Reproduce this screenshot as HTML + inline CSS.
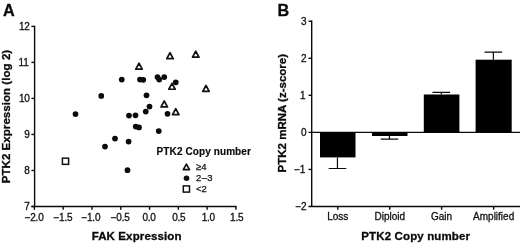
<!DOCTYPE html>
<html><head><meta charset="utf-8"><title>Figure</title>
<style>
html,body{margin:0;padding:0;background:#fff;}
body{width:520px;height:245px;overflow:hidden;}
svg{display:block;font-family:"Liberation Sans",Arial,Helvetica,sans-serif;}
.t{font-size:10px;fill:#111;letter-spacing:-0.25px;stroke:#111;stroke-width:.3px;}
.tb{font-size:10px;fill:#111;stroke:#111;stroke-width:.3px;}
.b{font-weight:bold;fill:#0a0a0a;stroke:#0a0a0a;stroke-width:.3px;}
.l{font-size:9.5px;fill:#111;stroke:#111;stroke-width:.25px;}
</style></head><body>
<svg width="520" height="245" viewBox="0 0 520 245">
<rect width="520" height="245" fill="#fff"/>

<text x="2.9" y="16.0" class="b" font-size="16.2">A</text>
<g stroke="#0a0a0a" stroke-width="1.4" fill="none">
<path d="M34.6 25.799999999999997V207.1"/>
<path d="M31.400000000000002 206.5H236.5"/>
<path d="M31.400000000000002 26.40H34.6"/>
<path d="M31.400000000000002 62.42H34.6"/>
<path d="M31.400000000000002 98.44H34.6"/>
<path d="M31.400000000000002 134.46H34.6"/>
<path d="M31.400000000000002 170.48H34.6"/>
<path d="M31.400000000000002 206.50H34.6"/>
<path d="M34.40 206.5V209.8"/>
<path d="M63.19 206.5V209.8"/>
<path d="M91.98 206.5V209.8"/>
<path d="M120.77 206.5V209.8"/>
<path d="M149.56 206.5V209.8"/>
<path d="M178.35 206.5V209.8"/>
<path d="M207.14 206.5V209.8"/>
<path d="M235.93 206.5V209.8"/>
</g>
<text x="29.5" y="29.65" text-anchor="end" class="t">12</text>
<text x="28.5" y="65.67" text-anchor="end" class="t">11</text>
<text x="29.5" y="101.69" text-anchor="end" class="t">10</text>
<text x="29.5" y="137.71" text-anchor="end" class="t">9</text>
<text x="29.5" y="173.73" text-anchor="end" class="t">8</text>
<text x="29.5" y="209.75" text-anchor="end" class="t">7</text>
<text x="34.10" y="221.4" text-anchor="middle" class="t">−2.0</text>
<text x="62.89" y="221.4" text-anchor="middle" class="t">−1.5</text>
<text x="90.83" y="221.4" text-anchor="middle" class="t">−1.0</text>
<text x="120.12" y="221.4" text-anchor="middle" class="t">−0.5</text>
<text x="148.96" y="221.4" text-anchor="middle" class="t">0.0</text>
<text x="178.85" y="221.4" text-anchor="middle" class="t">0.5</text>
<text x="208.24" y="221.4" text-anchor="middle" class="t">1.0</text>
<text x="236.68" y="221.4" text-anchor="middle" class="t">1.5</text>
<text x="136.6" y="240.3" text-anchor="middle" class="b" font-size="11.5" style="letter-spacing:.12px">FAK Expression</text>
<text transform="translate(10.4 116.5) rotate(-90)" text-anchor="middle" class="b" font-size="11.5" style="letter-spacing:.05px">PTK2 Expression (log 2)</text>
<circle cx="121.75" cy="79.55" r="2.85" fill="#0a0a0a"/>
<circle cx="140" cy="79.55" r="2.85" fill="#0a0a0a"/>
<circle cx="143.25" cy="79.80" r="2.85" fill="#0a0a0a"/>
<circle cx="157.5" cy="77.05" r="2.85" fill="#0a0a0a"/>
<circle cx="159.25" cy="79.55" r="2.85" fill="#0a0a0a"/>
<circle cx="164.25" cy="77.05" r="2.85" fill="#0a0a0a"/>
<circle cx="175.75" cy="82.30" r="2.85" fill="#0a0a0a"/>
<circle cx="101.25" cy="95.90" r="2.85" fill="#0a0a0a"/>
<circle cx="146.5" cy="95.30" r="2.85" fill="#0a0a0a"/>
<circle cx="149.5" cy="106.55" r="2.85" fill="#0a0a0a"/>
<circle cx="145.75" cy="111.55" r="2.85" fill="#0a0a0a"/>
<circle cx="75.5" cy="114.05" r="2.85" fill="#0a0a0a"/>
<circle cx="129" cy="115.55" r="2.85" fill="#0a0a0a"/>
<circle cx="135.5" cy="115.30" r="2.85" fill="#0a0a0a"/>
<circle cx="167.5" cy="113.80" r="2.85" fill="#0a0a0a"/>
<circle cx="135.75" cy="126.55" r="2.85" fill="#0a0a0a"/>
<circle cx="139" cy="127.40" r="2.85" fill="#0a0a0a"/>
<circle cx="158.75" cy="131.05" r="2.85" fill="#0a0a0a"/>
<circle cx="115" cy="138.55" r="2.85" fill="#0a0a0a"/>
<circle cx="128.6" cy="141.60" r="2.85" fill="#0a0a0a"/>
<circle cx="105" cy="146.55" r="2.85" fill="#0a0a0a"/>
<circle cx="127.5" cy="170.20" r="2.85" fill="#0a0a0a"/>
<path d="M170.00 52.73L173.22 58.68L166.78 58.68Z" fill="#fff" stroke="#111" stroke-width="1.7" stroke-linejoin="round"/>
<path d="M195.75 51.23L198.97 57.18L192.53 57.18Z" fill="#fff" stroke="#111" stroke-width="1.7" stroke-linejoin="round"/>
<path d="M139.00 63.23L142.22 69.17L135.78 69.17Z" fill="#fff" stroke="#111" stroke-width="1.7" stroke-linejoin="round"/>
<path d="M172.00 83.33L175.22 89.27L168.78 89.27Z" fill="#fff" stroke="#111" stroke-width="1.7" stroke-linejoin="round"/>
<path d="M206.00 85.48L209.22 91.42L202.78 91.42Z" fill="#fff" stroke="#111" stroke-width="1.7" stroke-linejoin="round"/>
<path d="M164.25 100.98L167.47 106.92L161.03 106.92Z" fill="#fff" stroke="#111" stroke-width="1.7" stroke-linejoin="round"/>
<path d="M175.75 108.73L178.97 114.67L172.53 114.67Z" fill="#fff" stroke="#111" stroke-width="1.7" stroke-linejoin="round"/>
<rect x="62.40" y="158.15" width="6.2" height="6.2" fill="#fff" stroke="#111" stroke-width="1.5"/>
<text x="156.6" y="155.1" class="b" font-size="10" style="stroke-width:.15px;letter-spacing:.1px">PTK2 Copy number</text>
<path d="M186.40 164.15L189.50 169.65L183.30 169.65Z" fill="#fff" stroke="#111" stroke-width="1.7" stroke-linejoin="round"/>
<circle cx="186.5" cy="178.25" r="2.8" fill="#111"/>
<rect x="183.30" y="185.90" width="6.2" height="6.2" fill="#fff" stroke="#111" stroke-width="1.5"/>
<text x="196" y="170" class="l">≥4</text>
<text x="196" y="181.2" class="l" style="letter-spacing:.35px">2–3</text>
<text x="196" y="192.4" class="l">&lt;2</text>
<text x="277.4" y="16.0" class="b" font-size="16.2">B</text>
<g stroke="#0a0a0a" stroke-width="1.4" fill="none">
<path d="M311.7 20.599999999999998V207.1"/>
<path d="M308.5 206.5H520"/>
<path d="M308.5 132.38H520"/>
<path d="M308.5 21.20H311.7"/>
<path d="M308.5 58.26H311.7"/>
<path d="M308.5 95.32H311.7"/>
<path d="M308.5 169.44H311.7"/>
<path d="M337.75 206.5V209.7"/>
<path d="M337.45 157.4V168.5M328.65 168.5H346.25" stroke-width="1.2"/>
<path d="M389.75 206.5V209.7"/>
<path d="M389.45 136V139.1M380.65 139.1H398.25" stroke-width="1.2"/>
<path d="M441.60 206.5V209.7"/>
<path d="M441.30 94.5V92.3M432.50 92.3H450.10" stroke-width="1.2"/>
<path d="M493.65 206.5V209.7"/>
<path d="M493.35 59.7V52.2M484.55 52.2H502.15" stroke-width="1.2"/>
</g>
<rect x="320" y="132.38" width="35.50" height="25.02" fill="#000"/>
<rect x="372" y="132.38" width="35.50" height="3.62" fill="#000"/>
<rect x="423.8" y="94.50" width="35.60" height="37.88" fill="#000"/>
<rect x="475.6" y="59.70" width="36.10" height="72.68" fill="#000"/>
<text x="306.3" y="24.50" text-anchor="end" class="t">3</text>
<text x="306.3" y="61.56" text-anchor="end" class="t">2</text>
<text x="305.2" y="98.62" text-anchor="end" class="t">1</text>
<text x="306.3" y="135.68" text-anchor="end" class="t">0</text>
<text x="305.2" y="172.74" text-anchor="end" class="t">−1</text>
<text x="306.3" y="209.80" text-anchor="end" class="t">−2</text>
<text x="337.75" y="220" text-anchor="middle" class="tb">Loss</text>
<text x="389.75" y="220" text-anchor="middle" class="tb">Diploid</text>
<text x="441.60" y="220" text-anchor="middle" class="tb">Gain</text>
<text x="493.65" y="220" text-anchor="middle" class="tb">Amplified</text>
<text x="415.7" y="240.4" text-anchor="middle" class="b" font-size="11.5" style="letter-spacing:.13px">PTK2 Copy number</text>
<text transform="translate(286.2 113.2) rotate(-90)" text-anchor="middle" class="b" font-size="11.5">PTK2 mRNA (z-score)</text>
</svg></body></html>
